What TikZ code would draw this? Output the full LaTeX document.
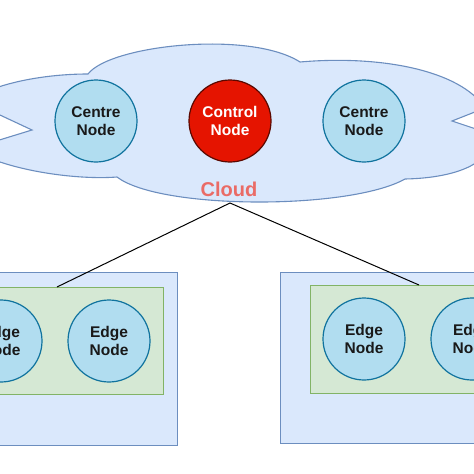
\documentclass[tikz,border=0pt]{standalone}
\usepackage{fontspec}
\setmainfont{Liberation Sans}
\definecolor{cldFill}  {RGB}{218, 232, 252}
\definecolor{cldLine}  {RGB}{108, 142, 191}
\definecolor{cldText}  {RGB}{234, 107, 102}
\definecolor{nodeFill} {RGB}{177, 221, 240}
\definecolor{nodeLine} {RGB}{ 16, 115, 158}
\definecolor{ctrlFill} {RGB}{229,  20,   0}
\definecolor{ctrlLine} {RGB}{ 90,   8,   0}
\definecolor{fogFill}  {RGB}{213, 232, 212}
\definecolor{fogLine}  {RGB}{130, 179, 102}
\usetikzlibrary{positioning}

\begin{document}
\begin{tikzpicture}[
  x=1pt, y=-1pt,
  font=\bfseries\fontsize{15.5}{18}\selectfont,
  roundnode/.style={circle, draw=nodeLine, fill=nodeFill, line width=1.2pt,
    minimum size=82pt, inner sep=0pt, align=center, text=black!90},
  ctrlnode/.style={roundnode, draw=ctrlLine, fill=ctrlFill, text=white},
  outerbox/.style={draw=cldLine, fill=cldFill, line width=1pt},
  fogbox/.style={draw=fogLine, fill=fogFill, line width=1pt},
]
  \useasboundingbox (0,0) rectangle (474,474);
  \clip (0,0) rectangle (474,474);

  % Cloud outline (runs past the frame on both sides)
  \draw[draw=cldLine, fill=cldFill, line width=1.1pt]
    (-30,101) .. controls (-10,85) and (40,74) .. (88,74)
    .. controls (110,45) and (250,30) .. (300,62)
    .. controls (380,55) and (460,70) .. (485,108)
    -- (452,121) -- (485,132)
    .. controls (500,160) and (460,178) .. (405,179)
    .. controls (350,210) and (160,210) .. (117,177)
    .. controls (80,180) and (10,172) .. (-30,149)
    -- (32,130) -- cycle;
  \coordinate (cloudtip) at (230,203);

  % Nodes inside the cloud
  \node[roundnode] (centreA) at (96,121)  {Centre\\Node};
  \node[ctrlnode]  (control) at (230,121) {Control\\Node};
  \node[roundnode] (centreB) at (364,121) {Centre\\Node};
  \node[text=cldText, font=\bfseries\fontsize{20}{22}\selectfont] (cloudlbl) at (229,189) {Cloud};

  % Lower groups
  \draw[outerbox] (-20,272) rectangle (177,445);
  \draw[fogbox]   (-20,287) rectangle (163,394);
  \draw[outerbox] (280,272) rectangle (500,443);
  \draw[fogbox]   (310,285) rectangle (500,393);
  \coordinate (leftjoin)  at (57,287);
  \coordinate (rightjoin) at (419,285);

  \node[roundnode] (edgeA) at (1,341)   {Edge\\Node};
  \node[roundnode] (edgeB) at (109,341) {Edge\\Node};
  \node[roundnode] (edgeC) at (364,339) {Edge\\Node};
  \node[roundnode] (edgeD) at (472,339) {Edge\\Node};

  % Links from the cloud
  \draw[line width=1pt] (leftjoin) -- (cloudtip) -- (rightjoin);
\end{tikzpicture}
\end{document}
